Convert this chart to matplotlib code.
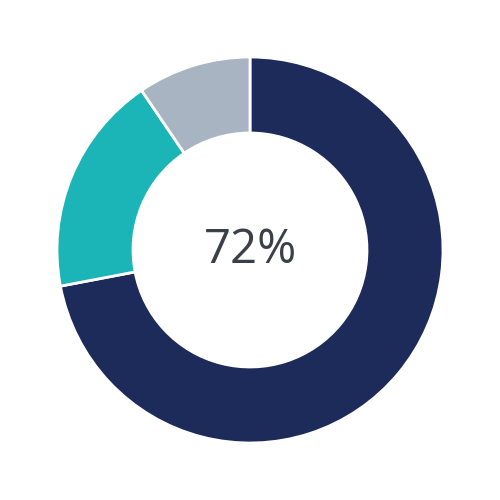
import matplotlib
matplotlib.use('Agg')
import matplotlib.pyplot as plt

# slice values (percent), clockwise from top
labels = ['Main', 'Second', 'Other']
values = [72, 18.5, 9.5]
colors = ['#1c2b59', '#1cb5b7', '#a9b4c2']
center_text = '72%'

fig = plt.figure(figsize=(5, 5), dpi=100)
ax = fig.add_axes([0, 0, 1, 1])

r_out = 193
r_in = 117
ax.pie(values, colors=colors, startangle=90, counterclock=False,
       radius=r_out, center=(0, 0), frame=True,
       wedgeprops=dict(width=r_out - r_in, edgecolor='white', linewidth=2))
ax.set_xlim(-250, 250)
ax.set_ylim(-250, 250)
ax.set_aspect('equal')
ax.axis('off')

ax.text(0, 0, center_text, ha='center', va='center', fontsize=34,
        color='#3b4048', family='Open Sans')

fig.savefig('out.png', dpi=100, facecolor='white')
